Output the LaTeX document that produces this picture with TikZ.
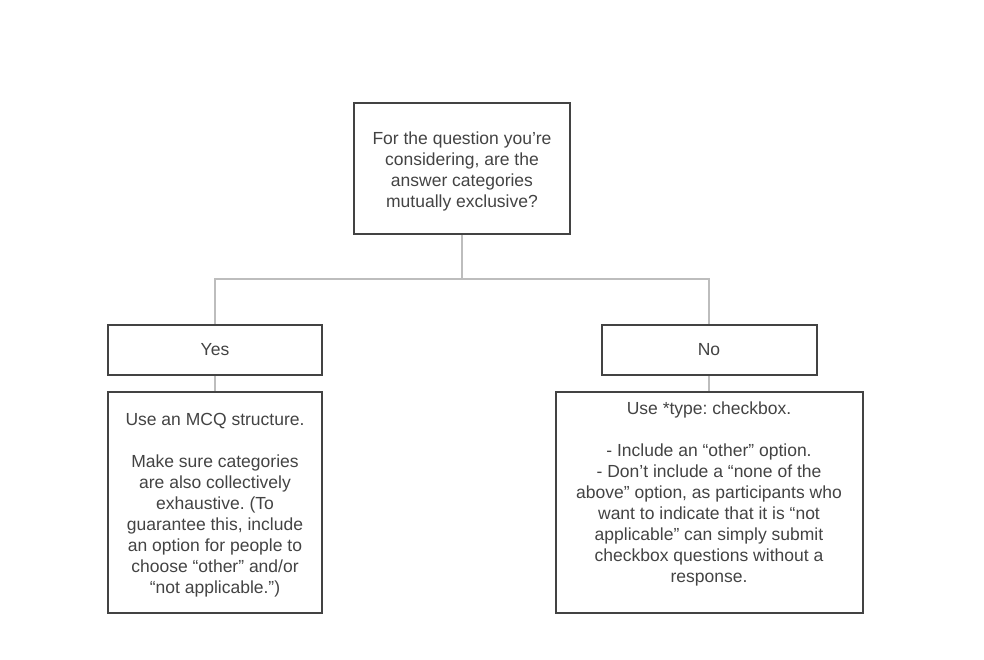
\documentclass[tikz,border=0pt]{standalone}
\usepackage{fontspec}
\setmainfont{Liberation Sans}
\usepackage{xcolor}
\definecolor{boxline}{HTML}{434343}
\definecolor{wiregray}{HTML}{BDBDBD}
\definecolor{ink}{HTML}{434343}

\begin{document}
\begin{tikzpicture}[x=1pt,y=-1pt,
    box/.style={draw=boxline,line width=2pt,text=ink,align=center,inner sep=0pt,
        font=\fontsize{17.5}{21}\selectfont\frenchspacing},
    wire/.style={draw=wiregray,line width=2.2pt}]
            \useasboundingbox (0,0) rectangle (984,660);
            % Question box
            \node[box,minimum width=216pt,minimum height=131pt] (Q) at (462,168.5)
                {\rule{0pt}{18.5pt}For the question you’re\\considering, are the\\answer categories\\mutually exclusive?};
            % Answer boxes
            \node[box,minimum width=214pt,minimum height=50pt] (Yes) at (215,350) {Yes};
            \node[box,minimum width=215pt,minimum height=50pt] (No) at (709,350) {No};
            % Advice boxes
            \node[box,minimum width=214pt,minimum height=221pt] (MCQ) at (215,502.5)
                {\rule{0pt}{18.5pt}Use an MCQ structure.\\[21pt]Make sure categories\\are also collectively\\exhaustive. (To\\guarantee this, include\\an option for people to\\choose “other” and/or\\“not applicable.”)};
            \node[box,minimum width=307pt,minimum height=221pt] (Check) at (709,502.5)
                {Use *type: checkbox.\\[21pt]- Include an “other” option.\\- Don’t include a “none of the\\above” option, as participants who\\want to indicate that it is “not\\applicable” can simply submit\\checkbox questions without a\\response.\\[0pt]};
            % Connectors
            \coordinate (J) at (462,279);
            \draw[wire] (Q.south) -- (J);
            \draw[wire] (J) -| (Yes.north);
            \draw[wire] (J) -| (No.north);
            \draw[wire] (Yes.south) -- (MCQ.north);
            \draw[wire] (No.south) -- (Check.north);
        \end{tikzpicture}
\end{document}
